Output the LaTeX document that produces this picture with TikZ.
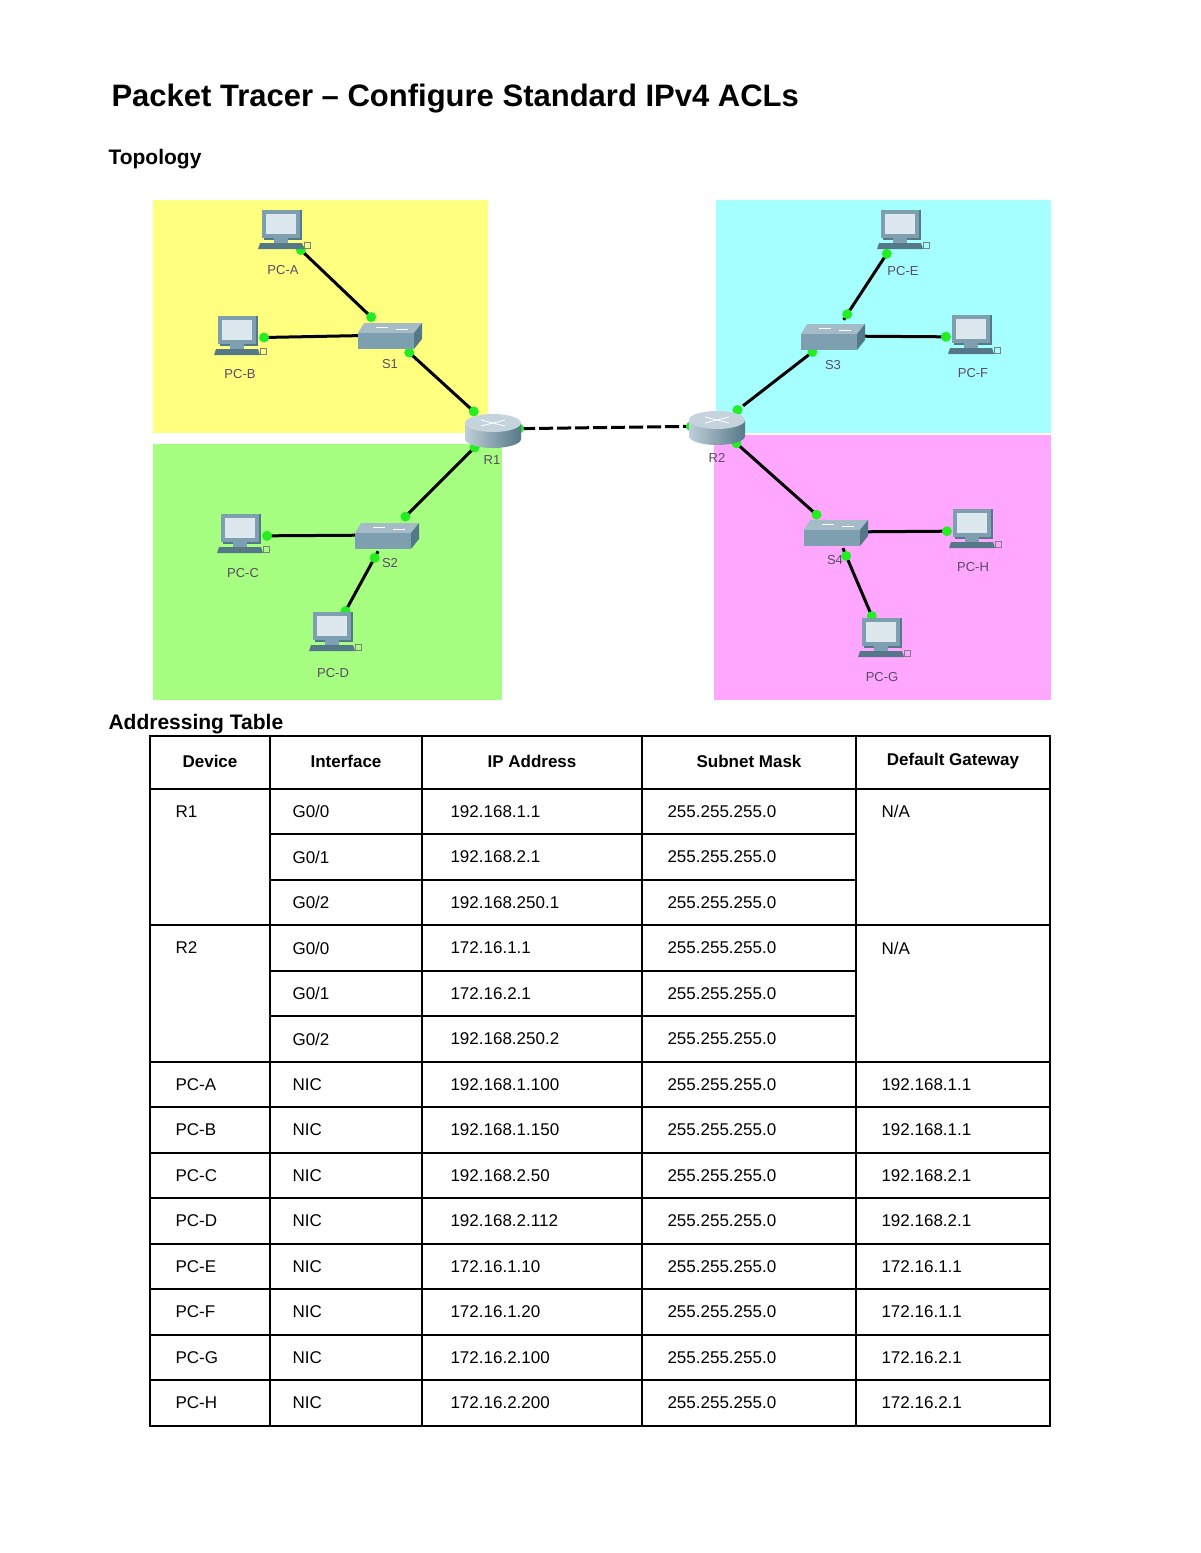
\documentclass[tikz,border=0pt]{standalone}
\usepackage{fontspec}
\setmainfont{Liberation Sans}
\usetikzlibrary{calc}
\pgfdeclarelayer{bg}\pgfdeclarelayer{mid}\pgfsetlayers{bg,mid,main}
\definecolor{ylw}{HTML}{FFFF80}\definecolor{cyn}{HTML}{A6FFFF}
\definecolor{grn}{HTML}{A6FF80}\definecolor{mag}{HTML}{FFA6FF}
\definecolor{dev}{HTML}{7E9FB0}\definecolor{devd}{HTML}{557888}\definecolor{scr}{HTML}{DDE8EE}
\definecolor{dot}{HTML}{22EE22}\definecolor{lbl}{HTML}{5A4A66}
\tikzset{
 lbl/.style={font=\fontsize{13}{13}\selectfont, text=lbl},
 cell/.style={anchor=west,font=\fontsize{17}{17}\selectfont},
 hcell/.style={font=\bfseries\fontsize{17}{17}\selectfont},
 tline/.style={line width=2pt},
 pc/.pic={
  \node[inner sep=0,minimum width=44pt,minimum height=44pt] (-c) {};
  \fill[devd] (-18,-22) rectangle (20,8);
  \fill[dev] (-20,-22) rectangle (18,6);
  \fill[scr] (-16,-18) rectangle (14,2);
  \fill[dev] (-8,6) rectangle (6,11);
  \fill[devd] (-22,11) -- (20,11) -- (22,17) -- (-24,17) -- cycle;
  \draw[gray,line width=0.6pt] (22,10) rectangle (28,16);
 },
 sw/.pic={
  \node[inner sep=0,minimum width=62pt,minimum height=32pt] (-c) {};
  \fill[dev!70!white] (-26,-12) -- (32,-12) -- (24,-2) -- (-32,-2) -- cycle;
  \fill[dev] (-32,-2) rectangle (24,14);
  \fill[devd] (24,-2) -- (32,-12) -- (32,4) -- (24,14) -- cycle;
  \draw[white,line width=0.6pt] (-14,-8)--(-2,-8) (6,-6)--(18,-6);
 },
 rt/.pic={
  \node[inner sep=0,minimum width=56pt,minimum height=40pt] (-c) {};
  \shade[left color=dev!50!white,right color=devd] (-28,-6) -- (-28,10) arc[start angle=180,end angle=0,x radius=28,y radius=9] -- (28,-6) -- cycle;
  \fill[dev!45!white] (0,-6) ellipse[x radius=28,y radius=9];
  \draw[white,line width=0.8pt] (-12,-9)--(12,-3) (-12,-3)--(12,-9);
 },
}
\newcommand\lnk[3][]{%
 \draw[line width=3pt,#1] (#2) -- (#3);
 \fill[dot] ($(#2)!26pt!(#3)$) circle (5pt);
 \fill[dot] ($(#3)!26pt!(#2)$) circle (5pt);}
\begin{document}
\begin{tikzpicture}[x=1pt,y=-1pt]
\useasboundingbox (0,0) rectangle (1200,1553);
\begin{pgfonlayer}{bg}
\fill[white] (0,0) rectangle (1200,1553);
\fill[ylw] (153,200) rectangle (488,433);
\fill[cyn] (716,200) rectangle (1051,433);
\fill[grn] (153,444) rectangle (502,700);
\fill[mag] (714,435) rectangle (1051,700);
\end{pgfonlayer}
\node[anchor=base west,font=\bfseries\fontsize{31}{31}\selectfont] (title) at (108,106) {Packet Tracer -- Configure Standard IPv4 ACLs};
\node[anchor=base west,font=\bfseries\fontsize{21}{21}\selectfont] (topo) at (105,164) {Topology};
\pic (pca) at (282,232) {pc}; \node[lbl] (la) at (283,270) {PC-A};
\pic (pcb) at (238,338) {pc}; \node[lbl] (lb) at (240,374) {PC-B};
\pic (pcc) at (241,536) {pc}; \node[lbl] (lc) at (243,573) {PC-C};
\pic (pcd) at (333,634) {pc}; \node[lbl] (ld) at (333,673) {PC-D};
\pic (pce) at (901,232) {pc}; \node[lbl] (le) at (903,271) {PC-E};
\pic (pcf) at (972,337) {pc}; \node[lbl] (lf) at (973,373) {PC-F};
\pic (pch) at (973,531) {pc}; \node[lbl] (lh) at (973,567) {PC-H};
\pic (pcg) at (882,640) {pc}; \node[lbl] (lg) at (882,677) {PC-G};
\pic (s1) at (390,335) {sw}; \node[lbl] (ls1) at (390,364) {S1};
\pic (s2) at (387,535) {sw}; \node[lbl] (ls2) at (390,563) {S2};
\pic (s3) at (833,336) {sw}; \node[lbl] (ls3) at (833,365) {S3};
\pic (s4) at (836,532) {sw}; \node[lbl] (ls4) at (835,560) {S4};
\pic (r1) at (493,429) {rt}; \node[lbl] (lr1) at (492,460) {R1};
\pic (r2) at (717,426) {rt}; \node[lbl] (lr2) at (717,458) {R2};
\begin{pgfonlayer}{mid}
\lnk{pca-c}{s1-c}\lnk{pcb-c}{s1-c}\lnk{s1-c}{r1-c}
\lnk{r1-c}{s2-c}\lnk{s2-c}{pcc-c}\lnk{s2-c}{pcd-c}
\lnk[dash pattern=on 14pt off 4pt]{r1-c}{r2-c}
\lnk{r2-c}{s3-c}\lnk{s3-c}{pce-c}\lnk{s3-c}{pcf-c}
\lnk{r2-c}{s4-c}\lnk{s4-c}{pch-c}\lnk{s4-c}{pcg-c}
\end{pgfonlayer}
\node[anchor=base west,font=\bfseries\fontsize{21}{21}\selectfont] (addr) at (105,729) {Addressing Table};
\foreach \y in {736,789,925,1062,1107,1153,1198,1244,1289,1335,1380,1426}
  \draw[tline] (149,\y) -- (1051,\y);
\foreach \y in {834,880,971,1016}
  \draw[tline] (269,\y) -- (856,\y);
\foreach \x in {150,270,422,642,856,1050}
  \draw[tline] (\x,735) -- (\x,1427);
\node[hcell] (h1) at (210,761) {Device};
\node[hcell] (h2) at (346,761) {Interface};
\node[hcell] (h3) at (532,761) {IP Address};
\node[hcell] (h4) at (749,761) {Subnet Mask};
\node[hcell] (h5) at (953,761) {Default Gateway};
\foreach \yc/\d/\i/\ip/\g [count=\k] in {
 811.5/R1/G0\slash 0/192.168.1.1/N\slash A,
 857/{}/G0\slash 1/192.168.2.1/{},
 902.5/{}/G0\slash 2/192.168.250.1/{},
 948/R2/G0\slash 0/172.16.1.1/N\slash A,
 993.5/{}/G0\slash 1/172.16.2.1/{},
 1039/{}/G0\slash 2/192.168.250.2/{},
 1084.5/PC-A/NIC/192.168.1.100/192.168.1.1,
 1130/PC-B/NIC/192.168.1.150/192.168.1.1,
 1175.5/PC-C/NIC/192.168.2.50/192.168.2.1,
 1221/PC-D/NIC/192.168.2.112/192.168.2.1,
 1266.5/PC-E/NIC/172.16.1.10/172.16.1.1,
 1312/PC-F/NIC/172.16.1.20/172.16.1.1,
 1357.5/PC-G/NIC/172.16.2.100/172.16.2.1,
 1403/PC-H/NIC/172.16.2.200/172.16.2.1}{
 \node[cell] (d\k) at (172,\yc) {\d};
 \node[cell] (i\k) at (289,\yc) {\i};
 \node[cell] (p\k) at (447,\yc) {\ip};
 \node[cell] (m\k) at (664,\yc) {255.255.255.0};
 \node[cell] (g\k) at (878,\yc) {\g};
}
\end{tikzpicture}
\end{document}
